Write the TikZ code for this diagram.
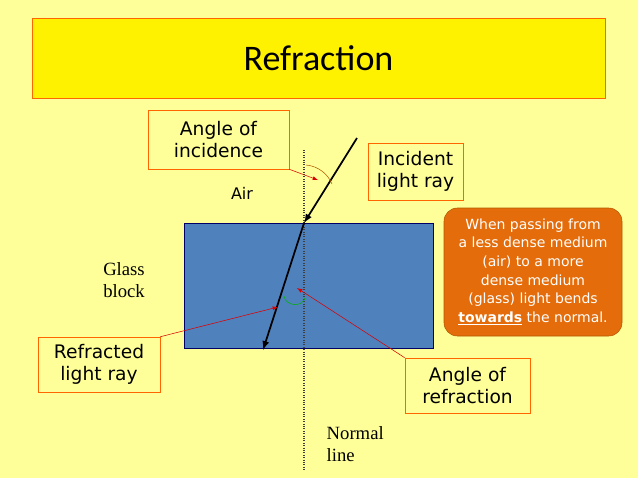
\documentclass[tikz,border=0pt]{standalone}
\usepackage{fontspec}
\setmainfont{DejaVu Sans}
\newfontfamily\titlefont{Carlito}
\newfontfamily\timesfont{Liberation Serif}
\definecolor{bgyel}{RGB}{255,255,153}
\definecolor{glassblue}{RGB}{79,129,189}
\definecolor{noteor}{RGB}{228,108,10}
\begin{document}
\begin{tikzpicture}[x=0.75pt,y=-0.75pt,
  lbl/.style={draw=orange!80!red,fill=none,align=center,font=\fontsize{14}{16.5}\selectfont,inner sep=3pt},
  redarr/.style={red!85!black,-latex},
  ray/.style={black,line width=1.3pt,-latex}]
\fill[bgyel] (0,0) rectangle (638,478);
\useasboundingbox (0,0) rectangle (638,478);
\node[draw=orange!80!red,fill=yellow,minimum width=573*0.75pt,minimum height=80*0.75pt,inner sep=0pt,
  font=\titlefont\fontsize{27}{32}\selectfont] (title) at (318.5,58) {Refraction};
\node[draw=blue!40!black,fill=glassblue,minimum width=249*0.75pt,minimum height=125*0.75pt,inner sep=0pt] (glass) at (308.5,285.5) {};
\coordinate (ntop) at (304,150);
\coordinate (nbot) at (304,470);
\draw[densely dotted,gray!50!black,thick] (ntop) -- (nbot);
\coordinate (src) at (357,138);
\coordinate (hit) at (304,223);
\coordinate (out) at (263,350);
\draw[ray] (src) -- (hit);
\draw[ray] (hit) -- (out);
\draw[orange!70!black] (306,165) .. controls (318,166) and (328,174) .. (332,184);
\draw[green!70!black] (284,296) .. controls (285,306) and (302,308) .. (305,298);
\node[lbl,minimum width=141*0.75pt,minimum height=59*0.75pt] (inc) at (218.5,139.5) {Angle of\\incidence};
\node[lbl,minimum width=95*0.75pt,minimum height=57*0.75pt] (incray) at (415.5,171.5) {Incident\\light ray};
\node[lbl,minimum width=122*0.75pt,minimum height=55*0.75pt] (refray) at (99,364.5) {Refracted\\light ray};
\node[lbl,minimum width=125*0.75pt,minimum height=55*0.75pt] (refang) at (467.5,385.5) {Angle of\\refraction};
\node[font=\fontsize{12}{14}\selectfont] (air) at (242,193) {Air};
\node[font=\timesfont\fontsize{14}{17}\selectfont,align=left] (gb) at (124,280) {Glass\\block};
\node[font=\timesfont\fontsize{14}{17}\selectfont,align=left,anchor=west] (nl) at (322,444) {Normal\\line};
\node[draw=orange!70!black,fill=noteor,rounded corners=10pt,
  minimum width=178*0.75pt,minimum height=128*0.75pt,text=white,align=center,
  font=\fontsize{10.5}{14}\selectfont] (note) at (533,272)
  {When passing from\\a less dense medium\\(air) to a more\\dense medium\\(glass) light bends\\\textbf{\underline{towards}} the normal.};
\draw[redarr] (inc.south east) -- (318,180);
\draw[redarr] (refray.north east) -- (278,307);
\draw[redarr] (refang.north west) -- (297,288);
\end{tikzpicture}
\end{document}
